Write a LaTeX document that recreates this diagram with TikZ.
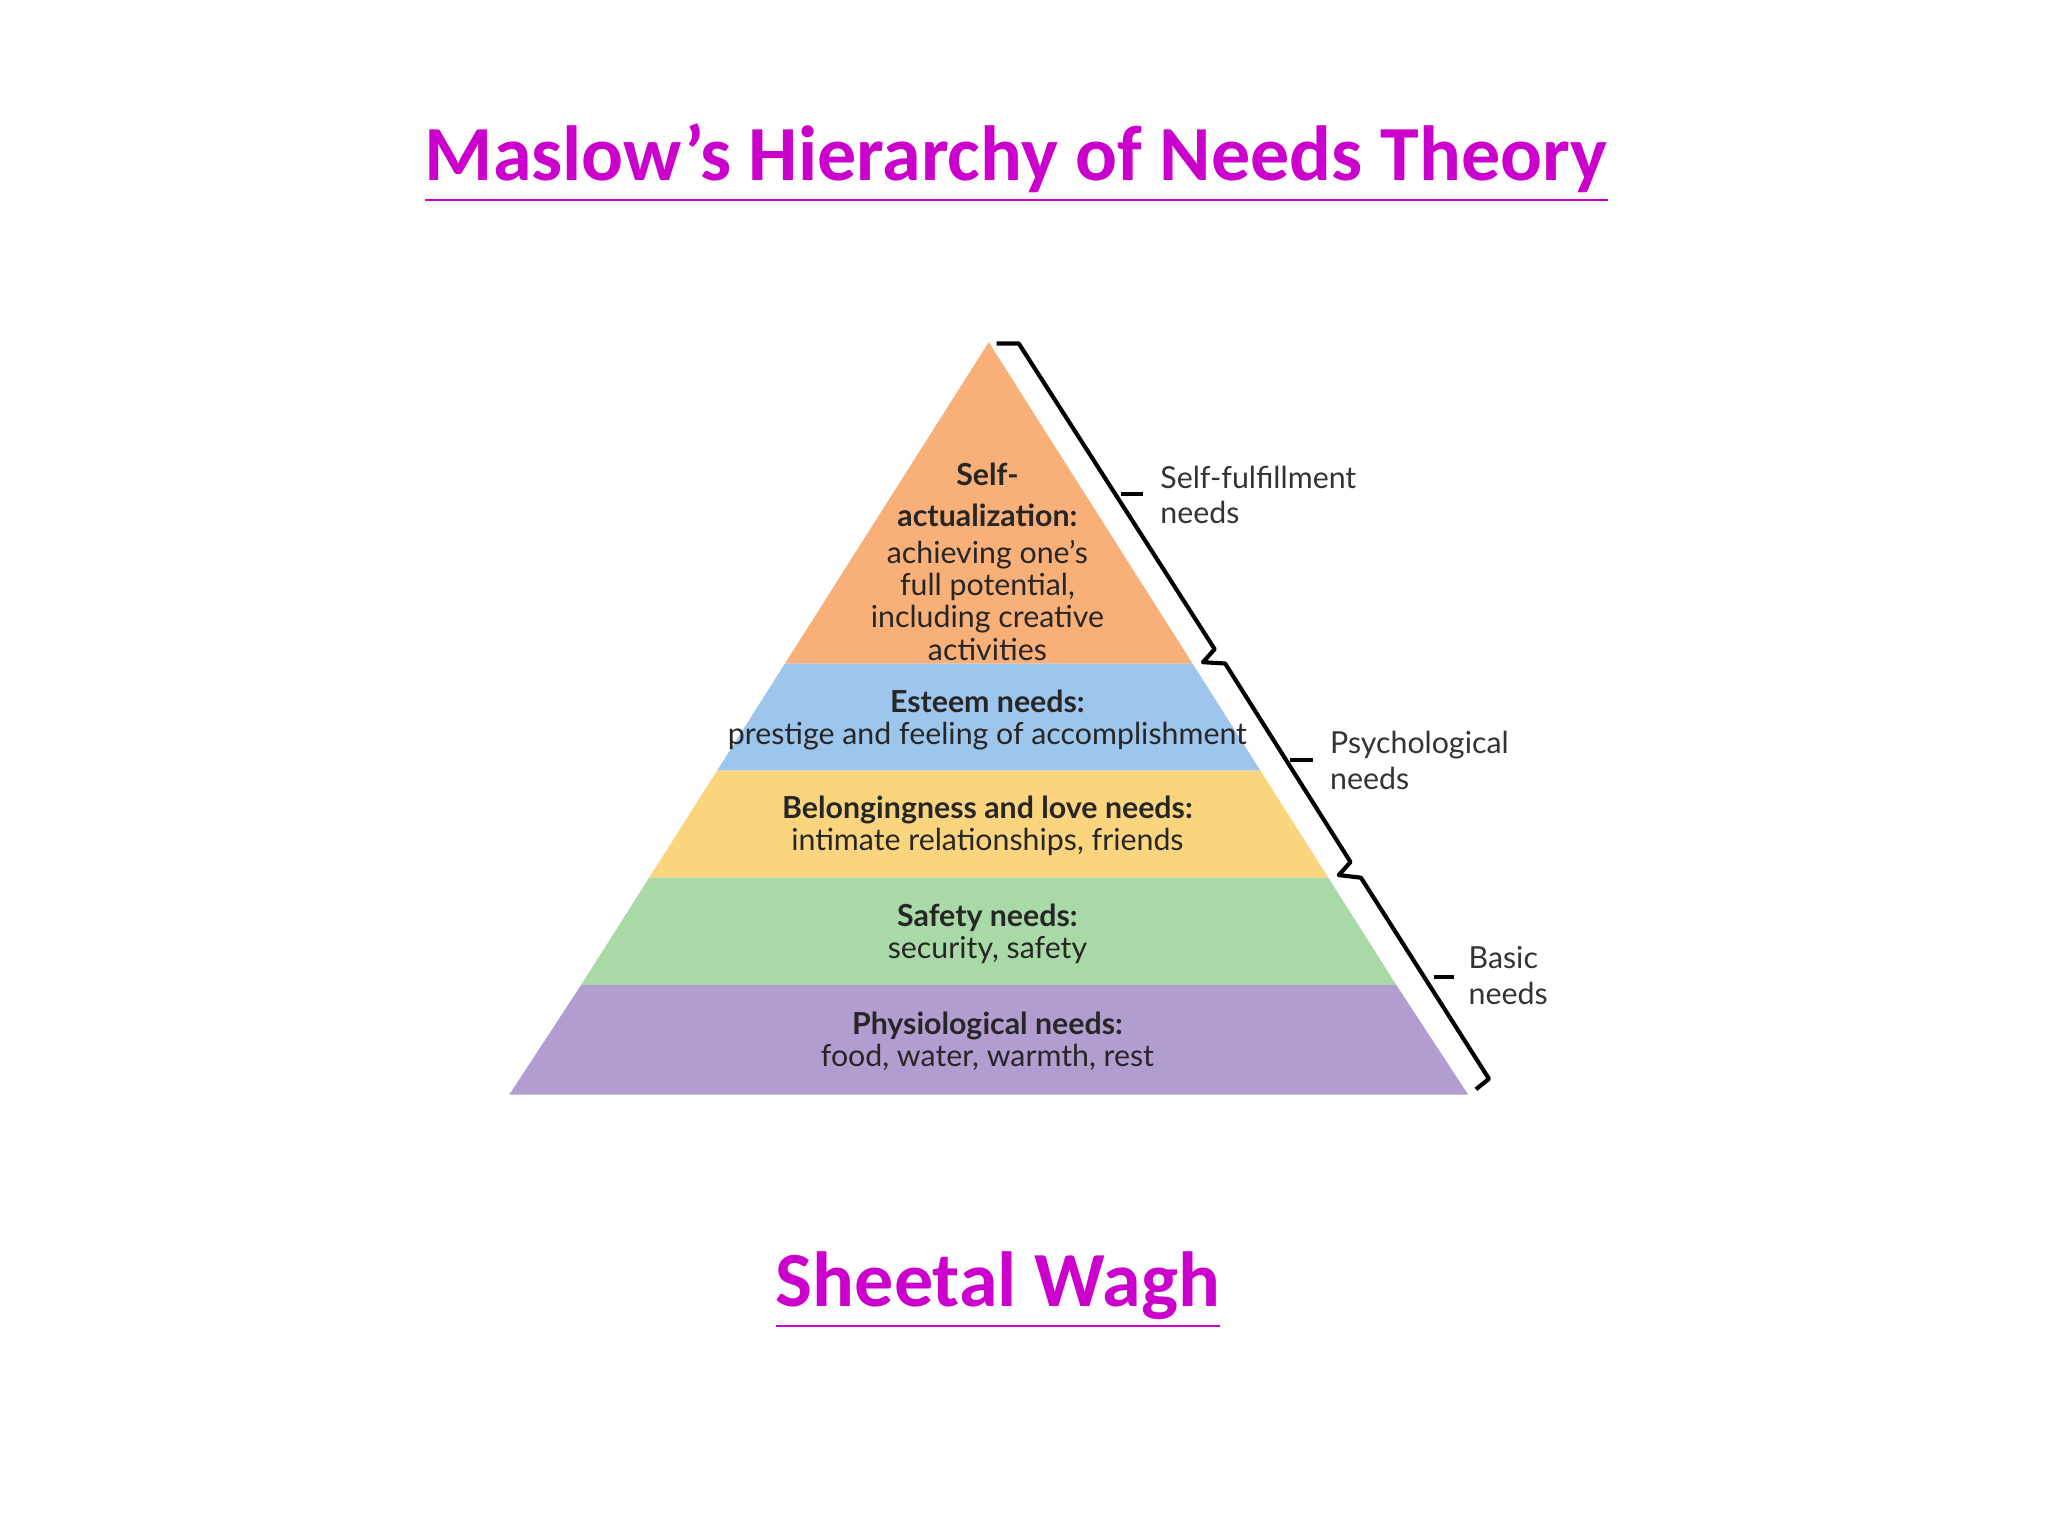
\documentclass[tikz,border=0pt]{standalone}
\usepackage{fontspec}
\setmainfont{Carlito}
\newfontfamily\pf{Lato}
\begin{document}
\begin{tikzpicture}[x=0.01cm,y=-0.01cm,
  ttl/.style={font=\fontsize{17}{20}\selectfont\bfseries, text=tc},
  lbl/.style={font=\pf\fontsize{6.6}{7.8}\selectfont, align=left, anchor=west, text=black!80},
  ptxt/.style={font=\pf\fontsize{6.6}{7.0}\selectfont, align=center, text=black!85},
  br/.style={draw=black, line width=0.9pt, line join=round}]
\definecolor{tc}{HTML}{CC00CC}
\definecolor{c1}{HTML}{F8AF78}
\definecolor{c2}{HTML}{9EC6EC}
\definecolor{c3}{HTML}{FBD57E}
\definecolor{c4}{HTML}{A8D9A6}
\definecolor{c5}{HTML}{B29DD0}
\useasboundingbox (0,0) rectangle (1568,1176);
\fill[white] (0,0) rectangle (1568,1176);
% pyramid
\coordinate (apex) at (757,262);
\fill[c1] (apex) -- (601,508) -- (913,508) -- cycle;
\fill[c2] (601,508) -- (549,590) -- (965,590) -- (913,508) -- cycle;
\fill[c3] (549,590) -- (497,672) -- (1017,672) -- (965,590) -- cycle;
\fill[c4] (497,672) -- (445,754) -- (1069,754) -- (1017,672) -- cycle;
\fill[c5] (445,754) -- (390,838) -- (1124,838) -- (1069,754) -- cycle;
% titles
\node[ttl] (title) at (778,125) {\underline{Maslow’s Hierarchy of Needs Theory}};
\node[ttl] (author) at (764,988) {\underline{Sheetal Wagh}};
% pyramid texts
\node[ptxt] (t1) at (756,430) {\textbf{Self-}\\[2pt]\textbf{actualization:}\\[1pt]achieving one’s\\full potential,\\including creative\\activities};
\node[ptxt] (t2) at (756,551) {\textbf{Esteem needs:}\\prestige and feeling of accomplishment};
\node[ptxt] (t3) at (756,632) {\textbf{Belongingness and love needs:}\\intimate relationships, friends};
\node[ptxt] (t4) at (756,715) {\textbf{Safety needs:}\\security, safety};
\node[ptxt] (t5) at (756,797) {\textbf{Physiological needs:}\\food, water, warmth, rest};
% braces
\coordinate (b0) at (763,263);
\coordinate (b1) at (780,263);
\coordinate (b2) at (930,497);
\coordinate (b3) at (921,507);
\coordinate (b4) at (938,508);
\coordinate (b5) at (1034,660);
\coordinate (b6) at (1025,670);
\coordinate (b7) at (1042,672);
\coordinate (b8) at (1140,826);
\coordinate (b9) at (1130,834);
\draw[br] (b0) -- (b1) -- (b2) -- (b3) -- (b4) -- (b5) -- (b6) -- (b7) -- (b8) -- (b9);
\draw[br] (858,378) -- (875,378);
\draw[br] (988,582) -- (1005,582);
\draw[br] (1098,748) -- (1113,748);
\node[lbl] (l1) at (876,379) {Self-fulfillment\\needs};
\node[lbl] (l2) at (1006,582) {Psychological\\needs};
\node[lbl] (l3) at (1112,747) {Basic\\needs};
\end{tikzpicture}
\end{document}
